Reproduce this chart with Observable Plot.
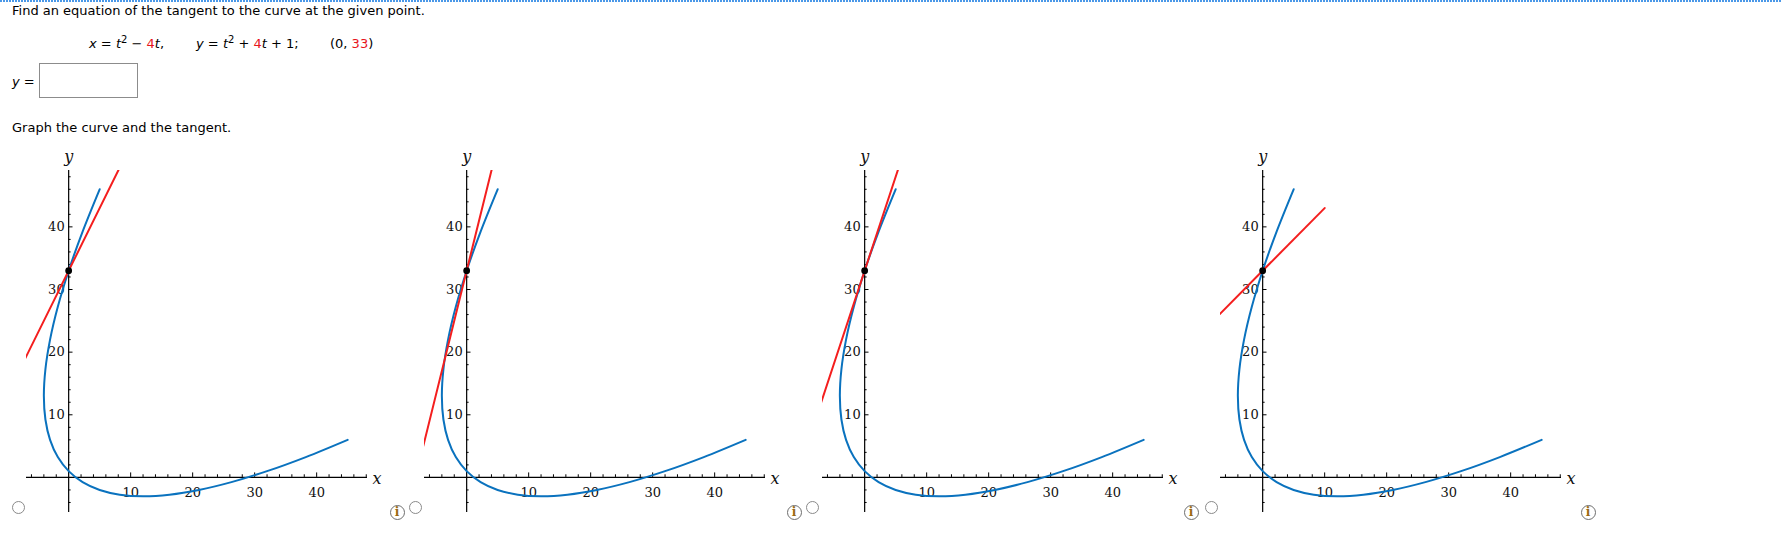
<!DOCTYPE html>
<html>
<head>
<meta charset="utf-8">
<script src="https://cdn.jsdelivr.net/npm/d3@7"></script>
<script src="https://cdn.jsdelivr.net/npm/@observablehq/plot@0.6"></script>
<style>
  html, body { margin: 0; padding: 0; background: #fff; }
  body { width: 1782px; height: 559px; position: relative; overflow: hidden; font-family: "DejaVu Sans", Verdana, sans-serif; color: #000; }
  .abs { position: absolute; white-space: nowrap; font-size: 13px; line-height: 16px; }
  .it { font-style: italic; }
  .red { color: #e8141c; }
  .topline { position: absolute; left: 0; top: 0; width: 1782px; height: 2px;
    background: repeating-linear-gradient(to right, #4a98e8 0 2px, transparent 2px 3px); }
  .box { position: absolute; left: 39px; top: 63px; width: 97px; height: 33px; border: 1px solid #8c8c8c; box-sizing: content-box; }
  .radio { position: absolute; width: 11px; height: 11px; border: 1px solid #8a8a8a; border-radius: 50%; background: #fff; }
  .info { position: absolute; width: 13px; height: 13px; border: 1px solid #6e6e6e; border-radius: 50%;
    font: bold 12px/13px "DejaVu Serif", serif; text-align: center; color: #9a6a10; }
  .panel { position: absolute; top: 140px; }
</style>
</head>
<body>
<div class="topline"></div>
<div class="abs" style="left:12px; top:3px;">Find an equation of the tangent to the curve at the given point.</div>
<div class="abs" style="left:89px; top:36px;"><span class="it">x</span> = <span class="it">t</span><sup style="font-size:10px;line-height:0;">2</sup> − <span class="red">4</span><span class="it">t</span>,</div>
<div class="abs" style="left:196px; top:36px;"><span class="it">y</span> = <span class="it">t</span><sup style="font-size:10px;line-height:0;">2</sup> + <span class="red">4</span><span class="it">t</span> + 1;</div>
<div class="abs" style="left:330px; top:36px;">(0, <span class="red">33</span>)</div>
<div class="abs" style="left:12px; top:74px;"><span class="it">y</span> =</div>
<div class="box"></div>
<div class="abs" style="left:12px; top:120px;">Graph the curve and the tangent.</div>
<div id="panels"></div>
<script>
// Parametric curve samples (x = t^2 - 4t, y = t^2 + 4t + 1), read as points
const curveX = [45, 38.25, 32, 26.25, 21, 16.25, 12, 8.25, 5, 2.25, 0, -1.75, -3, -3.75, -4, -3.75, -3, -1.75, 0, 2.25, 5];
const curveY = [6, 3.25, 1, -0.75, -2, -2.75, -3, -2.75, -2, -0.75, 1, 3.25, 6, 9.25, 13, 17.25, 22, 27.25, 33, 39.25, 46];
// Given point
const pointX = 0;
const pointY = 33;
// Candidate tangent lines (one per answer choice): endpoints
const tangentX = [-7, 10];
const tangentY1 = [19, 5, 12, 26];   // y at x = -7
const tangentY2 = [53, 73, 63, 43];  // y at x = 10
// Axis ticks
const xTickLabels = [10, 20, 30, 40];
const yTickLabels = [10, 20, 30, 40];
const xMinorTicks = [-6, -4, -2, 2, 4, 6, 8, 12, 14, 16, 18, 22, 24, 26, 28, 32, 34, 36, 38, 42, 44, 46, 48];
const yMinorTicks = [-4, -2, 2, 4, 6, 8, 12, 14, 16, 18, 22, 24, 26, 28, 32, 34, 36, 38, 42, 44, 46, 48];
const xDomain = [-6.8, 48.2];
const yDomain = [-5.6, 49];

const blue = "#0a72be";
const red = "#f41e1e";
const serif = "DejaVu Serif, serif";

const curve = curveX.map((x, i) => ({x, y: curveY[i]}));
const panelLefts = [3.8, 401.7, 799.6, 1197.5];
const radioPos = [[18.3, 507.5], [415, 507.5], [812.8, 507.5], [1211.5, 507.5]];
const infoPos = [[397, 512.5], [794, 512.5], [1191, 512.5], [1588, 512.5]];

const container = document.getElementById("panels");
tangentY1.forEach((y1, k) => {
  const tangent = [{x: tangentX[0], y: y1}, {x: tangentX[1], y: tangentY2[k]}];
  const svg = Plot.plot({
    width: 398,
    height: 380,
    marginLeft: 22,
    marginRight: 35,
    marginTop: 30,
    marginBottom: 8,
    x: {domain: xDomain, axis: null},
    y: {domain: yDomain, axis: null},
    style: {background: "transparent", overflow: "visible", color: "#000"},
    marks: [
      Plot.ruleY([0], {stroke: "#000", strokeWidth: 1.2}),
      Plot.ruleX([0], {stroke: "#000", strokeWidth: 1.2}),
      Plot.ruleX(xMinorTicks, {x: d => d, y1: 0, y2: 0.42, stroke: "#000"}),
      Plot.ruleX(xTickLabels, {x: d => d, y1: 0, y2: 0.72, stroke: "#000"}),
      Plot.ruleY(yMinorTicks, {y: d => d, x1: 0, x2: 0.4, stroke: "#000"}),
      Plot.ruleY(yTickLabels, {y: d => d, x1: 0, x2: 0.7, stroke: "#000"}),
      Plot.text(xTickLabels, {x: d => d, y: 0, dy: 15, text: d => String(d), fontFamily: serif, fontSize: 13, fill: "#111"}),
      Plot.text(yTickLabels, {x: 0, y: d => d, dx: -4, text: d => String(d), textAnchor: "end", fontFamily: serif, fontSize: 13, fill: "#111"}),
      Plot.text(["x"], {frameAnchor: "right", y: 0, dx: 14, dy: 1, text: d => d, fontFamily: serif, fontStyle: "italic", fontSize: 16, fill: "#111"}),
      Plot.text(["y"], {frameAnchor: "top", x: 0, dy: -20, text: d => d, fontFamily: serif, fontStyle: "italic", fontSize: 16, fill: "#111"}),
      Plot.line(curve, {x: "x", y: "y", curve: "catmull-rom", stroke: blue, strokeWidth: 2}),
      Plot.line(tangent, {x: "x", y: "y", stroke: red, strokeWidth: 2, clip: true}),
      Plot.dot([{x: pointX, y: pointY}], {x: "x", y: "y", r: 3.4, fill: "#000", stroke: "none"})
    ]
  });
  const wrap = document.createElement("div");
  wrap.className = "panel";
  wrap.style.left = panelLefts[k] + "px";
  wrap.appendChild(svg);
  container.appendChild(wrap);

  const r = document.createElement("div");
  r.className = "radio";
  r.style.left = (radioPos[k][0] - 6.5) + "px";
  r.style.top = (radioPos[k][1] - 6.5) + "px";
  document.body.appendChild(r);

  const info = document.createElement("div");
  info.className = "info";
  info.textContent = "i";
  info.style.left = (infoPos[k][0] - 7.5) + "px";
  info.style.top = (infoPos[k][1] - 7.5) + "px";
  document.body.appendChild(info);
});
</script>
</body>
</html>
